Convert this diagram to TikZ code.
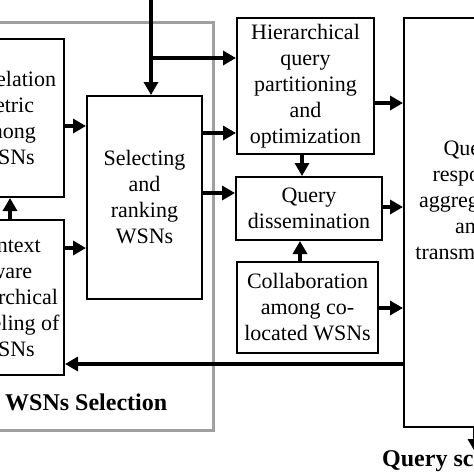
\documentclass[tikz,border=0pt]{standalone}
\usepackage{fontspec}
\setmainfont{Liberation Serif}
\usetikzlibrary{arrows.meta}
\definecolor{framegray}{RGB}{160,160,160}
\begin{document}
\begin{tikzpicture}[x=1pt,y=-1pt,
  box/.style={draw, line width=2pt, inner sep=0pt, align=center, font=\fontsize{22}{26}\selectfont},
  plain/.style={inner sep=0pt, align=center, font=\fontsize{22}{26}\selectfont},
  title/.style={inner sep=0pt, font=\fontsize{24}{28}\selectfont\bfseries},
  arr/.style={line width=3.5pt, -{Triangle[length=13pt,width=14pt]}}]
\useasboundingbox (0,0) rectangle (474,474);
\clip (0,0) rectangle (474,474);
\fill[white] (0,0) rectangle (474,474);
\draw[line width=3pt, framegray] (-100,22) rectangle (213,430);
\node[box, minimum width=116pt, minimum height=158pt] (cor) at (6,118) {Correlation\\metric\\among\\WSNs};
\node[box, minimum width=116pt, minimum height=155pt] (ctx) at (6,297.5) {Context\\aware\\hierarchical\\modeling of\\WSNs};
\node[box, minimum width=115pt, minimum height=203pt] (sel) at (144.5,197.5) {Selecting\\and\\ranking\\WSNs};
\node[box, minimum width=137pt, minimum height=136pt] (hier) at (305.5,86) {Hierarchical\\query\\partitioning\\and\\optimization};
\node[box, minimum width=146pt, minimum height=63pt] (qd) at (309,208.5) {Query\\dissemination};
\node[box, minimum width=141pt, minimum height=91pt] (col) at (307.5,307.5) {Collaboration\\among co-\\located WSNs};
\node[box, minimum width=134pt, minimum height=409pt] (qr) at (471,222.5) {};
\node[plain] (qrtext) at (471,200) {Query\\response\\aggregation\\and\\transmission};
\node[title, anchor=base west] (wsel) at (5,410) {WSNs Selection};
\node[title, anchor=base west] (qsc) at (382,466) {Query sc};
\coordinate (in) at (151,-10);
\draw[arr] (in) -- (in |- sel.north);
\draw[arr] (in |- 0,58) -- (hier.west |- 0,58);
\draw[arr] (cor.east |- 0,126) -- (sel.west |- 0,126);
\draw[arr] (ctx.north -| 10,0) -- (cor.south -| 10,0);
\draw[arr] (ctx.east |- 0,248) -- (sel.west |- 0,248);
\draw[arr] (sel.east |- 0,133) -- (hier.west |- 0,133);
\draw[arr] (sel.east |- 0,193) -- (qd.west |- 0,193);
\draw[arr] (hier.south -| 302,0) -- (qd.north -| 302,0);
\draw[arr] (hier.east |- 0,103) -- (qr.west |- 0,103);
\draw[arr] (qd.east |- 0,207) -- (qr.west |- 0,207);
\draw[arr] (col.north -| 300,0) -- (qd.south -| 300,0);
\draw[arr] (col.east |- 0,308) -- (qr.west |- 0,308);
\draw[arr] (qr.west |- 0,364) -- (ctx.east |- 0,364);
\draw[arr] (qr.south -| 475,0) -- (475,452);
\end{tikzpicture}
\end{document}
